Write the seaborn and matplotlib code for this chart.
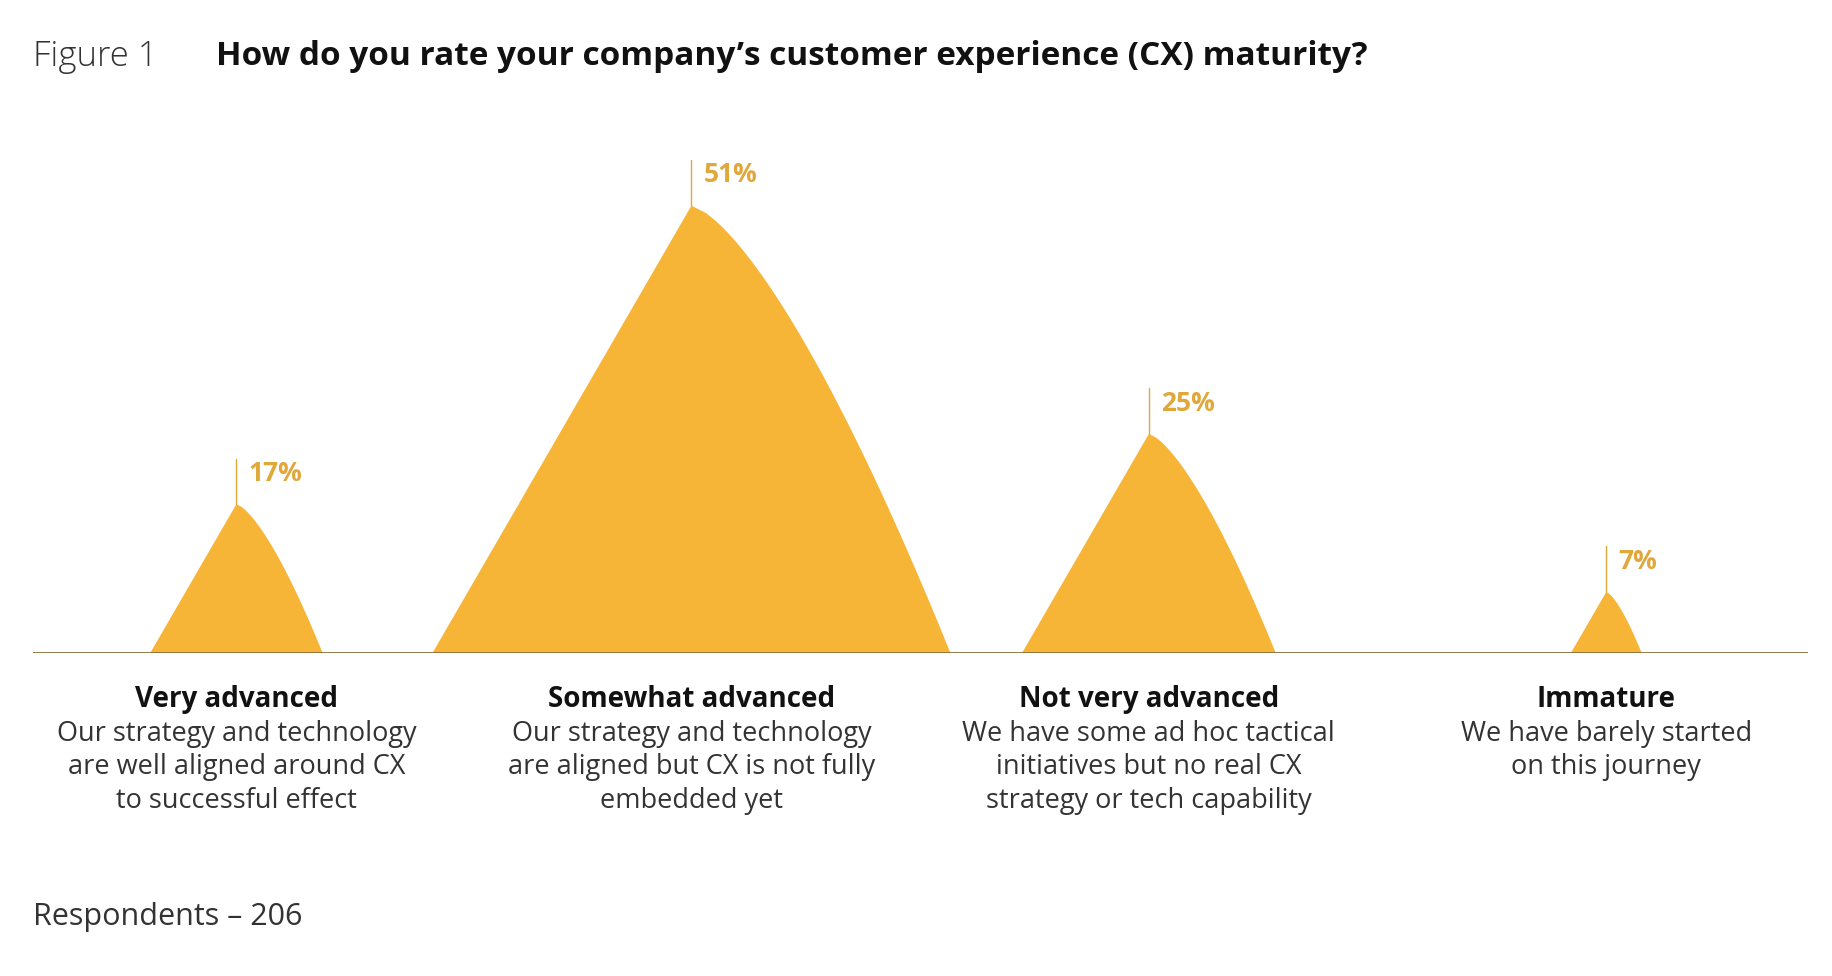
import numpy as np
import matplotlib.pyplot as plt
import seaborn as sns

# chart data
categories = ["Very advanced", "Somewhat advanced", "Not very advanced", "Immature"]
descriptions = [
    "Our strategy and technology\nare well aligned around CX\nto successful effect",
    "Our strategy and technology\nare aligned but CX is not fully\nembedded yet",
    "We have some ad hoc tactical\ninitiatives but no real CX\nstrategy or tech capability",
    "We have barely started\non this journey",
]
values = [17, 51, 25, 7]

sns.set_style("white")
plt.rcParams['font.family'] = ['Open Sans', 'DejaVu Sans']

W, H = 1550, 826  # reference layout units
fig = plt.figure(figsize=(18.32, 9.76), dpi=100)
ax = fig.add_axes([28 / W, (H - 553) / H, (1530 - 28) / W, (553 - 130) / H])
ax.set_xlim(28, 1530)
ax.set_ylim(0, (553 - 130) / 7.43)
ax.axis("off")

centers = [200, 585, 972, 1359]
gold = "#F7B538"
label_gold = "#E0A73A"
half_w = 4.3  # half width per percent

for c, v in zip(centers, values):
    w = half_w * v
    ys = np.linspace(v, 0, 60)
    xr = c + w * (1 - ys / v) ** 0.7
    xs = np.concatenate([[c - w], [c], xr])
    yy = np.concatenate([[0], [v], ys])
    ax.fill(xs, yy, color=gold, lw=0)
    ax.plot([c, c], [v, v + 5.2], color=label_gold, lw=1)
    ax.text(c + 10, v + 3.5, f"{v}%", color=label_gold, fontsize=19,
            fontweight="bold", va="center", ha="left")

ax.axhline(0, color="#8C7240", lw=1.3)

for c, cat, desc in zip(centers, categories, descriptions):
    fig.text(c / W, 1 - 592 / H, cat, ha="center", va="center",
             fontsize=20, fontweight="bold", color="#111111")
    fig.text(c / W, 1 - 609 / H, desc, ha="center", va="top",
             fontsize=19.5, color="#333333", linespacing=1.28)

fig.text(28 / W, 1 - 48 / H, "Figure 1", ha="left", va="center",
         fontsize=25, color="#333333", fontweight="light")
fig.text(183 / W, 1 - 48 / H, "How do you rate your company\u2019s customer experience (CX) maturity?",
         ha="left", va="center", fontsize=24, fontweight="bold", color="#111111")
fig.text(28 / W, 1 - 776 / H, "Respondents \u2013 206", ha="left", va="center",
         fontsize=22, color="#333333")

fig.savefig("out.png", dpi=100, facecolor="white")
